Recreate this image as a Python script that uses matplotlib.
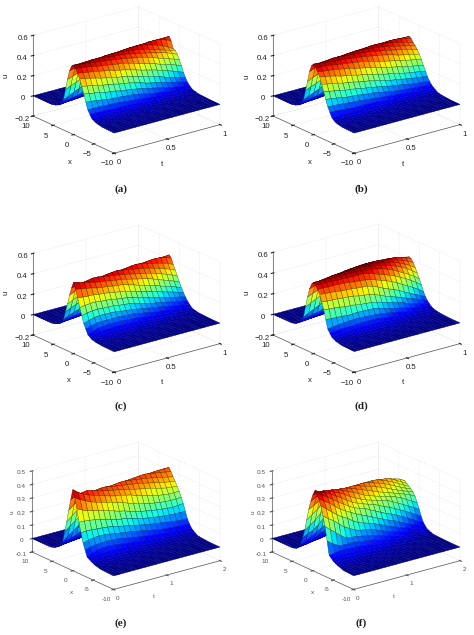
import numpy as np
import matplotlib
matplotlib.use("Agg")
import matplotlib.pyplot as plt
from mpl_toolkits.mplot3d import proj3d

plt.rcParams['font.family'] = ['Liberation Sans', 'DejaVu Sans']

W, H = 474, 635
panel_letters = ['a', 'b', 'c', 'd', 'e', 'f']
x_mesh = np.arange(-10, 10.5, 0.5)
# knots (x relative to the ridge centre) at which profiles are read
s_knots = [-10, -7, -5.5, -4.5, -3.5, -2.5, -1.5, -0.75, 0, 0.75, 1.5, 2.5, 3.5, 4.5, 5.5, 7, 10]

# profiles: start, middle and end of the time range
prof_a = [[0, .004, .018, .04, .11, .25, .38, .45, .49, .46, .32, .10, .03, .01, 0, 0, 0],
          [.001, .014, .042, .085, .17, .28, .39, .44, .47, .45, .32, .12, .04, .01, 0, 0, 0],
          [.001, .008, .024, .06, .13, .24, .33, .34, .45, .43, .30, .12, .04, .01, 0, 0, 0]]
prof_b = [[0, .004, .018, .05, .14, .27, .40, .46, .50, .46, .30, .10, .03, .01, 0, 0, 0],
          [.001, .016, .05, .10, .19, .30, .41, .46, .49, .46, .32, .12, .04, .01, 0, 0, 0],
          [.001, .014, .055, .11, .20, .30, .37, .40, .45, .43, .30, .12, .04, .01, 0, 0, 0]]
prof_c = [[0, .003, .01, .02, .05, .14, .28, .41, .50, .40, .26, .09, .03, .01, 0, 0, 0],
          [.001, .014, .042, .085, .15, .25, .36, .42, .47, .43, .28, .11, .04, .01, 0, 0, 0],
          [.001, .007, .02, .06, .12, .20, .30, .37, .45, .42, .28, .11, .04, .01, 0, 0, 0]]
prof_d = [[0, .004, .018, .04, .10, .27, .40, .46, .49, .45, .32, .11, .04, .01, 0, 0, 0],
          [.001, .02, .06, .12, .22, .36, .46, .49, .50, .48, .36, .14, .05, .01, 0, 0, 0],
          [.001, .008, .024, .06, .12, .23, .32, .38, .42, .40, .28, .11, .04, .01, 0, 0, 0]]
prof_e = [[0, .004, .015, .03, .05, .14, .28, .42, .50, .38, .24, .08, .03, .01, 0, 0, 0],
          [.001, .014, .04, .08, .15, .24, .35, .40, .43, .40, .27, .11, .04, .01, 0, 0, 0],
          [.001, .008, .04, .09, .19, .27, .33, .37, .42, .40, .27, .11, .04, .01, 0, 0, 0]]
prof_f = [[0, .006, .024, .04, .07, .27, .41, .47, .50, .44, .34, .17, .05, .01, 0, 0, 0],
          [.001, .02, .06, .11, .19, .28, .33, .38, .41, .39, .30, .12, .04, .01, 0, 0, 0],
          [.001, .006, .026, .07, .16, .24, .27, .29, .31, .29, .25, .11, .04, .01, 0, 0, 0]]

# ridge centre along t and stage of the profile (0 start, 1 middle, 2 end)
centre_a = [0, .1, .2, .3, .45, .55, .65, .8, .9, 1.0, 1.15, 1.25, 1.4, 1.5, 1.6, 1.7, 1.85, 1.95, 2.05, 2.15, 2.3]
centre_e = [0, .15, .3, .45, .6, .75, .9, 1.05, 1.2, 1.3, 1.45, 1.55, 1.7, 1.8, 1.9, 2.0, 2.1, 2.2, 2.3, 2.35, 2.4]
centre_f = [-.5, -.3, -.1, .15, .4, .6, .85, 1.1, 1.3, 1.5, 1.75, 1.95, 2.15, 2.35, 2.5, 2.7, 2.9, 3.1, 3.3, 3.5, 3.7]
stage_even = [0, .12, .24, .36, .48, .6, .7, .8, .88, .95, 1, 1.04, 1.08, 1.13, 1.2, 1.28, 1.38, 1.5, 1.65, 1.82, 2]
stage_fast = [0, .25, .45, .6, .72, .8, .87, .92, .96, 1, 1.03, 1.06, 1.1, 1.15, 1.2, 1.28, 1.38, 1.5, 1.65, 1.82, 2]

profiles = [prof_a, prof_b, prof_c, prof_d, prof_e, prof_f]
centres = [centre_a, centre_a, centre_a, centre_a, centre_e, centre_f]
stages = [stage_even, stage_even, stage_fast, stage_even, stage_fast, stage_even]

t_ends = [1, 1, 1, 1, 2, 2]
t_tick_sets = [[0, .5, 1]] * 4 + [[0, 1, 2]] * 2
t_tick_labels = [['0', '0.5', '1']] * 4 + [['0', '1', '2']] * 2
z_lims = [(-.2, .6)] * 4 + [(-.1, .5)] * 2
z_tick_sets = [[-.2, 0, .2, .4, .6]] * 4 + [[-.1, 0, .1, .2, .3, .4, .5]] * 2
z_tick_labels = [['\u22120.2', '0', '0.2', '0.4', '0.6']] * 4 + [['-0.1', '0', '0.1', '0.2', '0.3', '0.4', '0.5']] * 2
x_tick_sets = [-10, -5, 0, 5, 10]
x_tick_labels = [['\u221210', '\u22125', '0', '5', '10']] * 4 + [['-10', '-5', '0', '5', '10']] * 2

# pixel corners of each box: left-bottom, front, right, left-top
corners = [[(33, 116), (113, 154), (220, 126), (33, 35)],
           [(273, 116), (354, 154), (460, 126), (273, 35)],
           [(33, 335), (115, 373), (220, 343), (33, 253)],
           [(273, 335), (355, 372), (460, 342), (273, 252)],
           [(32, 552), (113, 590), (220, 561), (32, 471)],
           [(272, 552), (354, 590), (460, 561), (272, 471)]]
caption_xy = [(121, 189), (361, 189), (121, 406), (361, 406), (121, 623), (361, 623)]
label_x_xy = [(70, 163), (310, 163), (69, 380), (310, 381), (72, 593), (313, 593)]
label_t_xy = [(162, 165), (403, 165), (162, 383), (403, 383), (154, 596), (394, 596)]
label_u_xy = [(6, 76), (247, 77), (6, 293), (247, 293), (12, 512), (253, 512)]

fig = plt.figure(figsize=(W / 100, H / 100), dpi=100)


def project(ax, p):
    ax.apply_aspect()
    M = ax.get_proj()
    x, y, _ = proj3d.proj_transform(p[0], p[1], p[2], M)
    return ax.transData.transform((x, y))


for i, letter in enumerate(panel_letters):
    big = i < 4
    fs = 5.6 if big else 4.6
    tc = '#222222' if big else '#555555'
    t_mesh = np.linspace(0, t_ends[i], 21)
    P = np.array(profiles[i])
    U = []
    for c, st in zip(centres[i], stages[i]):
        k = min(int(st), 1)
        f = st - k
        prof = (1 - f) * P[k] + f * P[k + 1]
        U.append(np.interp(x_mesh - c, s_knots, prof))
    U = np.array(U)
    T, X = np.meshgrid(t_mesh, x_mesh, indexing='ij')

    zlo, zhi = z_lims[i]
    lb, fr, rt, tp = corners[i]
    side = 200
    ax = fig.add_axes([0, 0, side / W, side / H], projection='3d', proj_type='ortho', computed_zorder=False)
    ax.set_xlim(0, t_ends[i]); ax.set_ylim(-10, 10); ax.set_zlim(zlo, zhi)
    ax.view_init(elev=20.6, azim=232.5)
    zrat = (lb[1] - tp[1]) / np.cos(np.radians(20.6)) / 134
    ax.set_box_aspect((1, 1, zrat), zoom=1.0)

    # fit the axes to the box corners
    a = project(ax, (0, 10, zlo)); b = project(ax, (t_ends[i], -10, zlo))
    side = side * (rt[0] - lb[0]) / (b[0] - a[0])
    ax.set_position([0, 0, side / W, side / H])
    a = project(ax, (0, 10, zlo))
    ax.set_position([(lb[0] - a[0]) / W, ((H - lb[1]) - a[1]) / H, side / W, side / H])

    surf = ax.plot_surface(T, X, U, cmap='jet', vmin=0, vmax=U.max(), rstride=1, cstride=1,
                           linewidth=0.3, shade=False, antialiased=True, zorder=3)
    # grid lines are the cell colour darkened, so they fade out over the dark low part
    cell = 0.25 * (U[:-1, :-1] + U[1:, :-1] + U[:-1, 1:] + U[1:, 1:])
    rgba = plt.get_cmap('jet')(cell.ravel() / U.max())
    dark = 0.6 * np.clip(cell.ravel() / (0.3 * U.max()), 0, 1)
    rgba[:, :3] *= (1 - dark)[:, None]
    surf.set_edgecolors(rgba)

    ax.set_xticks(t_tick_sets[i]); ax.set_xticklabels(t_tick_labels[i])
    ax.set_yticks(x_tick_sets); ax.set_yticklabels(x_tick_labels[i])
    ax.set_zticks(z_tick_sets[i]); ax.set_zticklabels(z_tick_labels[i])
    ax.tick_params(axis='both', labelsize=fs, colors=tc, pad=-4, length=2, width=0.3)
    ax.tick_params(axis='y', pad=-3)
    ax.tick_params(axis='z', pad=-3.8)
    for axis in (ax.xaxis, ax.yaxis, ax.zaxis):
        axis.set_pane_color((1, 1, 1, 0))
        axis.pane.set_edgecolor('#dddddd')
        axis.pane.set_linewidth(0.4)
        axis.pane.set_linestyle(':')
        axis.line.set_color('#555555')
        axis.line.set_linewidth(0.5)
        axis._axinfo['grid'].update(color='#d8d8d8', linewidth=0.4, linestyle=':')
    ax.patch.set_alpha(0)
    for txt, xy, rot in (('x', label_x_xy[i], 0), ('t', label_t_xy[i], 0), ('u', label_u_xy[i], 90)):
        fig.text(xy[0] / W, 1 - xy[1] / H, txt, fontsize=fs, color=tc, ha='center', va='center', rotation=rot)
    fig.text(caption_xy[i][0] / W, 1 - caption_xy[i][1] / H, '(%s)' % letter,
             family='Liberation Serif', weight='bold', fontsize=8, color='#222222', ha='center', va='center')

fig.savefig('out.png', dpi=100)
